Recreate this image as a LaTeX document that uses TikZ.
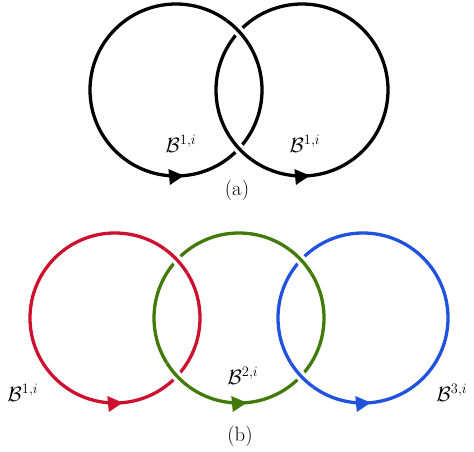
\documentclass[tikz,border=0pt]{standalone}
\usetikzlibrary{arrows.meta,decorations.markings}
\definecolor{linkred}{RGB}{204,16,46}
\definecolor{linkgreen}{RGB}{66,122,10}
\definecolor{linkblue}{RGB}{32,82,222}

\begin{document}
\begin{tikzpicture}[x=1pt,y=1pt,
  loop/.style={line width=3.3pt,postaction={decorate},
    decoration={markings,mark=at position 0.765 with {\arrow{Triangle[length=15pt,width=15pt]}}}},
  over/.style={line width=3.3pt,preaction={draw,white,line width=10pt}},
  lab/.style={font=\huge,inner sep=0pt}]
\useasboundingbox (0,0) rectangle (474,451);

% (a)
\coordinate (a1) at (176,361);
\coordinate (a2) at (302,361);
\draw[loop,black] (a1) circle (86);
\draw[loop,black] (a2) circle (86);
\draw[over,black] ([shift={(32:86)}]a1) arc (32:54:86);
\draw[over,black] ([shift={(212:86)}]a2) arc (212:234:86);
\node[lab] (la1) at (181,307) {$\mathcal{B}^{1,i}$};
\node[lab] (la2) at (305,307) {$\mathcal{B}^{1,i}$};
\node[lab] (capa) at (237,261) {(a)};

% (b)
\coordinate (b1) at (115,133);
\coordinate (b2) at (239,133);
\coordinate (b3) at (363,133);
\draw[loop,linkred] (b1) circle (85);
\draw[loop,linkgreen] (b2) circle (85);
\draw[loop,linkblue] (b3) circle (85);
\draw[over,linkred] ([shift={(32:85)}]b1) arc (32:54:85);
\draw[over,linkgreen] ([shift={(212:85)}]b2) arc (212:234:85);
\draw[over,linkgreen] ([shift={(32:85)}]b2) arc (32:54:85);
\draw[over,linkblue] ([shift={(212:85)}]b3) arc (212:234:85);
\node[lab] (lb1) at (23,58) {$\mathcal{B}^{1,i}$};
\node[lab] (lb2) at (243,75) {$\mathcal{B}^{2,i}$};
\node[lab] (lb3) at (452,58) {$\mathcal{B}^{3,i}$};
\node[lab] (capb) at (240,15) {(b)};
\end{tikzpicture}
\end{document}
